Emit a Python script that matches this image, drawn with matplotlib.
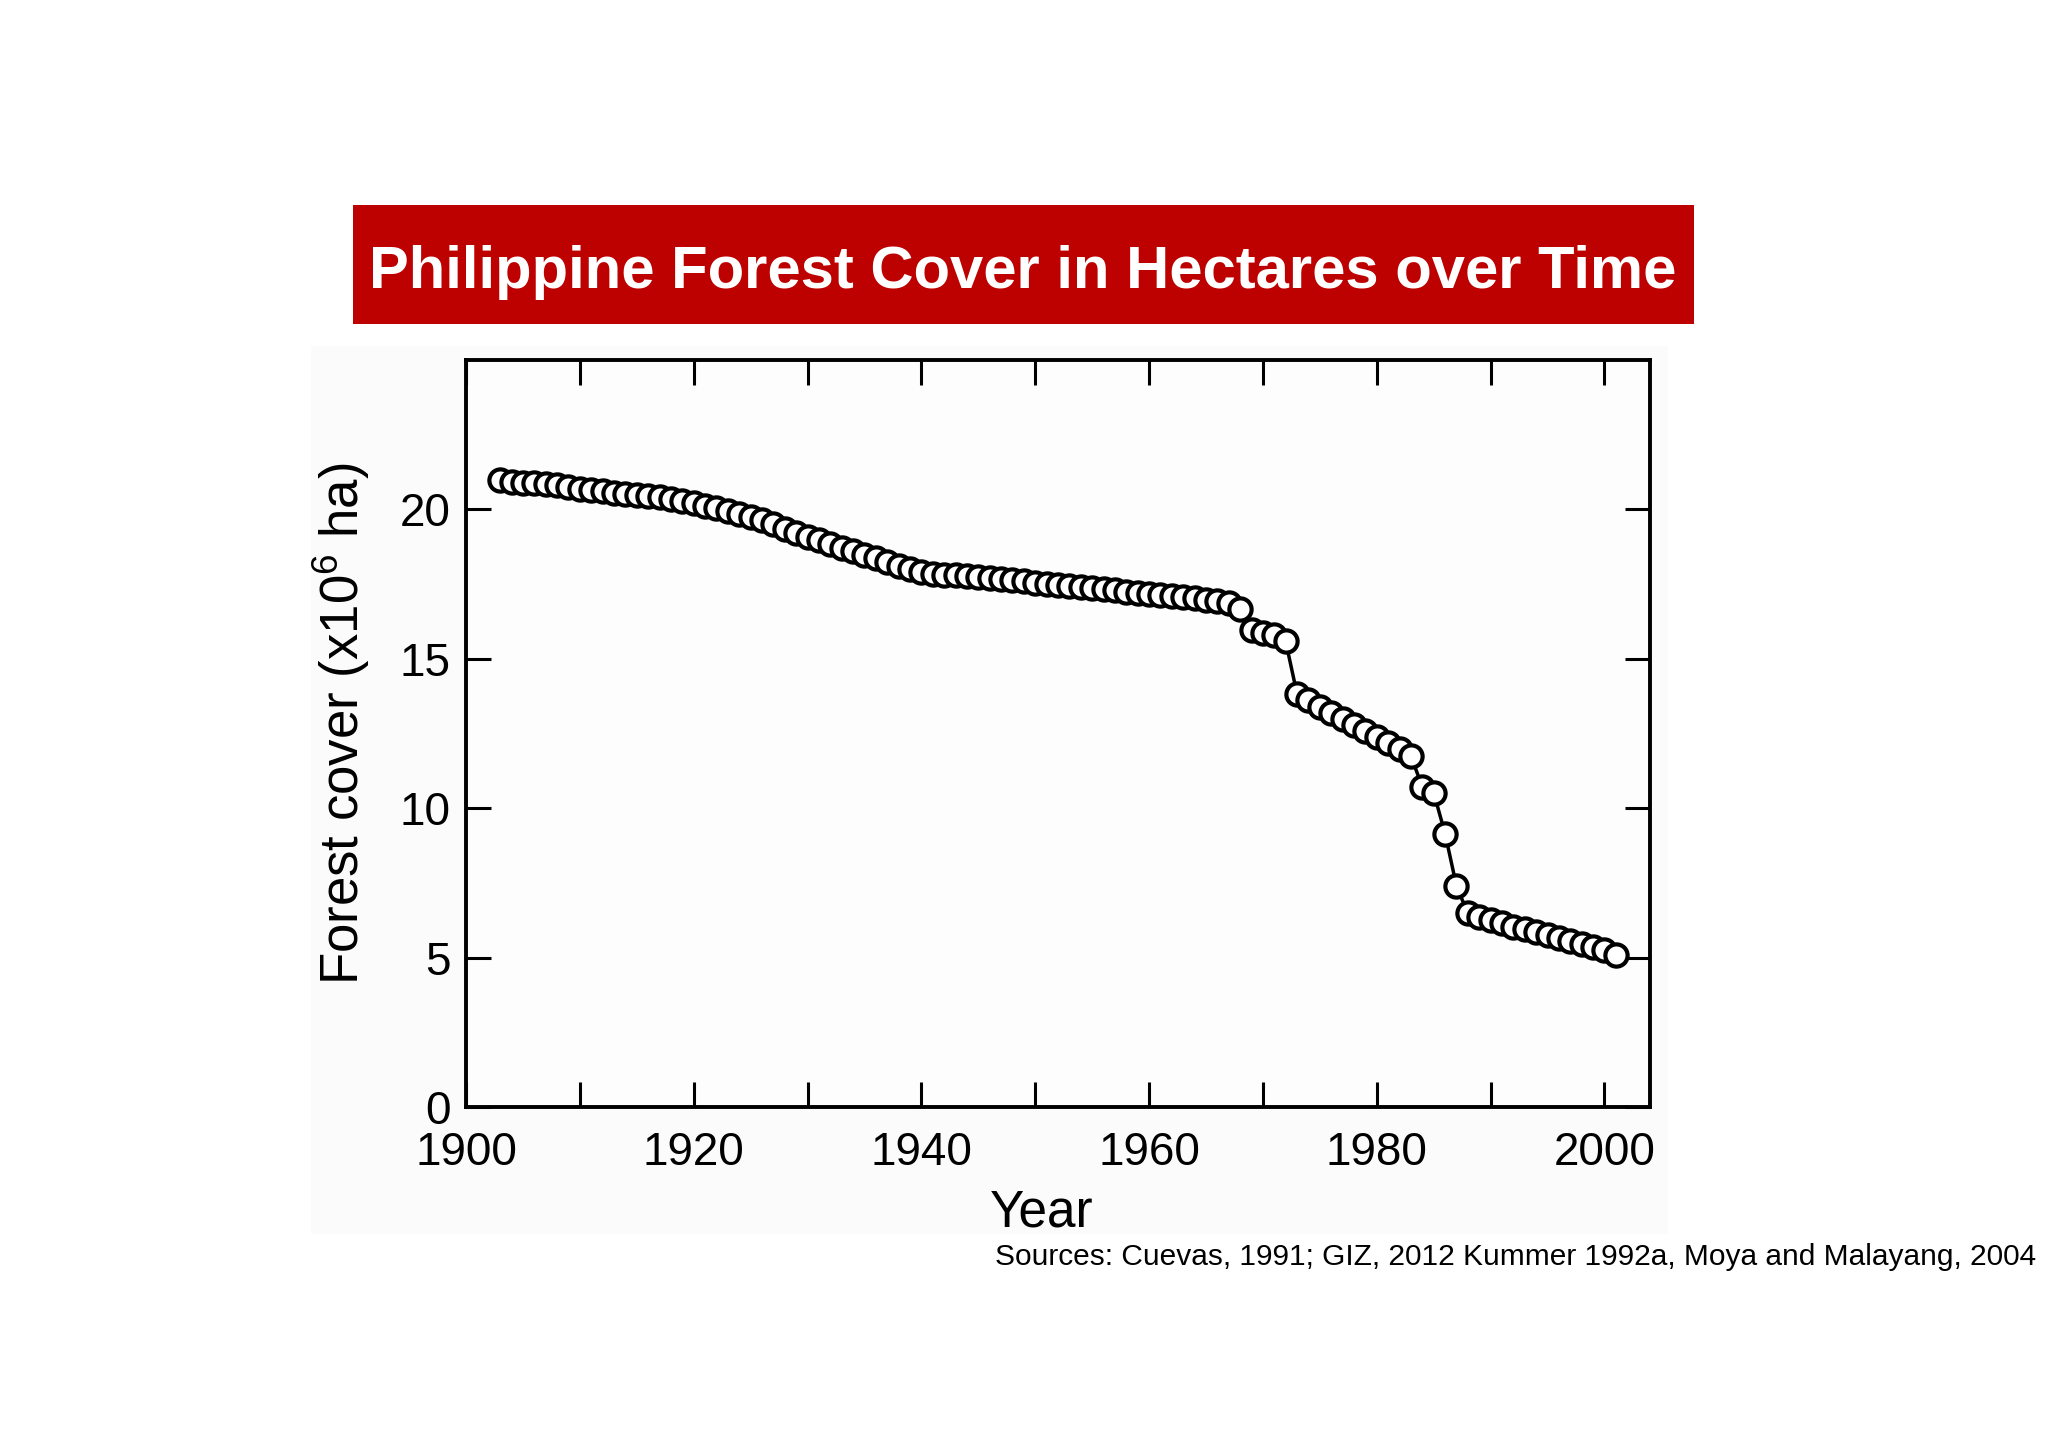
import numpy as np
import matplotlib
matplotlib.use("Agg")
import matplotlib.pyplot as plt
from matplotlib.patches import Rectangle
from matplotlib.ticker import MultipleLocator

# ── Data ───────────────────────────────────────
years = list(range(1903, 2002))
forest_cover = [
    20.97, 20.93, 20.90, 20.87, 20.85, 20.83, 20.75, 20.68, 20.64, 20.60,   # 1903-1912
    20.56, 20.52, 20.48, 20.44, 20.40, 20.36, 20.28, 20.20, 20.12, 20.04,   # 1913-1922
    19.95, 19.86, 19.76, 19.64, 19.50, 19.36, 19.22, 19.08, 18.96, 18.84,   # 1923-1932
    18.72, 18.60, 18.48, 18.36, 18.24, 18.12, 18.00, 17.90, 17.85, 17.82,   # 1933-1942
    17.79, 17.76, 17.73, 17.70, 17.67, 17.63, 17.59, 17.55, 17.50, 17.46,   # 1943-1952
    17.43, 17.40, 17.36, 17.32, 17.29, 17.25, 17.21, 17.17, 17.14, 17.10,   # 1953-1962
    17.06, 17.02, 16.98, 16.94, 16.88, 16.66, 15.98, 15.86, 15.80, 15.58,   # 1963-1972
    13.82, 13.61, 13.40, 13.20, 12.99, 12.79, 12.58, 12.38, 12.17, 11.97,   # 1973-1982
    11.74, 10.72, 10.52, 9.15, 7.40, 6.48, 6.37, 6.26, 6.15, 6.04,          # 1983-1992
    5.95, 5.85, 5.76, 5.65, 5.54, 5.46, 5.37, 5.26, 5.09,                   # 1993-2001
]
x_ticks = [1900, 1920, 1940, 1960, 1980, 2000]
y_ticks = [0, 5, 10, 15, 20]

title = "Philippine Forest Cover in Hectares over Time"
sources = "Sources: Cuevas, 1991; GIZ, 2012 Kummer 1992a, Moya and Malayang, 2004"

# ── Style ──────────────────────────────────────
plt.rcParams["font.family"] = ["Liberation Sans", "DejaVu Sans"]
plt.rcParams["mathtext.fontset"] = "custom"
plt.rcParams["mathtext.rm"] = "Liberation Sans"
plt.rcParams["mathtext.default"] = "regular"

W, H = 2048, 1448
fig = plt.figure(figsize=(W / 100, H / 100), dpi=100)
fig.patch.set_facecolor("white")

# faint grey panel behind the chart
fig.patches.append(Rectangle((311 / W, 1 - 1234 / H), (1668 - 311) / W, (1234 - 346) / H,
                             transform=fig.transFigure, facecolor="#fbfbfb",
                             edgecolor="none", zorder=-5))

# red title banner
fig.patches.append(Rectangle((353 / W, 1 - 324 / H), (1694 - 353) / W, (324 - 205) / H,
                             transform=fig.transFigure, facecolor="#bd0000",
                             edgecolor="none", zorder=-4))
fig.text(1023 / W, 1 - 272 / H, title, color="white", fontsize=43, fontweight="bold",
         ha="center", va="center", zorder=2)

# ── Plot ───────────────────────────────────────
ax = fig.add_axes([466 / W, 1 - 1107 / H, (1650 - 466) / W, (1107 - 360) / H])
ax.set_zorder(1)
ax.set_facecolor("#fdfdfd")
ax.plot(years, forest_cover, color="black", linewidth=2.5,
        marker="o", markersize=16, markerfacecolor="white",
        markeredgecolor="black", markeredgewidth=3.0)

ax.set_xlim(1900, 2004)
ax.set_ylim(0, 25)
ax.set_xticks(x_ticks)
ax.xaxis.set_minor_locator(MultipleLocator(10))
ax.set_yticks(y_ticks)

for s in ax.spines.values():
    s.set_linewidth(2.8)
ax.tick_params(which="both", direction="in", top=True, right=True,
               length=18, width=2.2)
ax.tick_params(axis="x", which="major", labelsize=33, pad=17)
ax.tick_params(axis="y", which="major", labelsize=33, pad=11)

ax.set_xlabel("Year", fontsize=37)
ax.xaxis.set_label_coords(0.486, -0.109)
ax.set_ylabel(r"Forest cover (x10$^6$ ha)", fontsize=38)
ax.yaxis.set_label_coords(-0.079, 0.513)

fig.text(995 / W, 1 - 1257 / H, sources, fontsize=21.5, ha="left", va="center")

fig.savefig("out.png", dpi=100)
